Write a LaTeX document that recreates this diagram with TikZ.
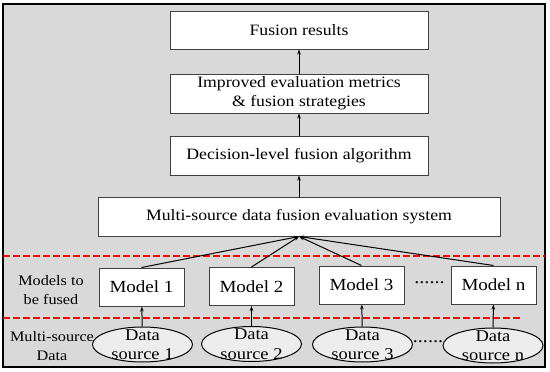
\documentclass[tikz,border=0pt]{standalone}
\usepackage{fontspec}
\setmainfont{Liberation Serif}[FakeStretch=1.12]
\usepackage{tikz}
\definecolor{panelgray}{RGB}{217, 217, 217}
\definecolor{srcgray}{RGB}{237, 237, 237}
\definecolor{boxline}{RGB}{64, 64, 64}
\definecolor{splitred}{RGB}{255, 0, 0}
\usetikzlibrary{shapes.geometric, arrows.meta, positioning}

\begin{document}
\begin{tikzpicture}[
    x=1pt, y=-1pt,
    font=\fontsize{15.8}{19}\selectfont,
    stagebox/.style={draw=boxline, line width=1pt, fill=white,
                     minimum width=#1, minimum height=38pt, inner sep=0pt, align=center},
    modelbox/.style={draw=boxline, line width=1pt, fill=white, font=\fontsize{17}{20}\selectfont,
                     minimum width=85pt, minimum height=38pt, inner sep=0pt},
    srcnode/.style={ellipse, draw=black, line width=1pt, fill=srcgray,
                    minimum width=100pt, minimum height=35pt, inner sep=0pt,
                    label={[align=center, inner sep=0pt, font=\fontsize{16.5}{19.5}\selectfont]center:#1}},
    rowlabel/.style={align=center, inner sep=0pt, font=\fontsize{14.5}{19}\selectfont},
    flow/.style={-{Stealth[length=5pt, width=3.5pt]}, line width=1pt},
    divider/.style={splitred, line width=1.5pt, dash pattern=on 7pt off 3pt}
]
    \useasboundingbox (0,0) rectangle (550,372);

    % Panel
    \draw[line width=1.2pt, fill=panelgray] (3,4) rectangle (545,367);

    % Stages
    \node[stagebox=258pt] (results) at (299,30) {Fusion results};
    \node[stagebox=258pt, minimum height=39pt] (metrics) at (299,93.5) {Improved evaluation metrics\\\& fusion strategies};
    \node[stagebox=258pt, minimum height=39pt] (decision) at (299,155.5) {Decision-level fusion algorithm};
    \node[stagebox=402pt, minimum height=39pt] (system) at (299,216.5) {Multi-source data fusion evaluation system};

    % Dividers
    \coordinate (divA) at (3,256);
    \coordinate (divB) at (545,256);
    \coordinate (divC) at (3,318);
    \coordinate (divD) at (520,318);
    \draw[divider] (divA) -- (divB);
    \draw[divider] (divC) -- (divD);

    % Row labels
    \node[rowlabel] (lblmodels) at (51,290) {Models to\\be fused};
    \node[rowlabel] (lbldata) at (52,346) {Multi-source\\Data};

    % Models
    \node[modelbox] (m1) at (141.5,287) {Model 1};
    \node[modelbox] (m2) at (251.5,286.5) {Model 2};
    \node[modelbox] (m3) at (361.5,285) {Model 3};
    \node[modelbox] (mn) at (493.5,285) {Model n};
    \node[font=\fontsize{18}{20}\selectfont] (mdots) at (429.5,283) {......};

    % Data sources
    \node[srcnode={Data\\source 1}] (s1) at (142.5,344.5) {};
    \node[srcnode={Data\\source 2}] (s2) at (251.5,344) {};
    \node[srcnode={Data\\source 3}] (s3) at (362.5,344.5) {};
    \node[srcnode={Data\\source n}] (sn) at (493,345.5) {};
    \node[font=\fontsize{18}{20}\selectfont] (sdots) at (428,342) {......};

    % Arrows
    \draw[flow] (s1) -- (m1);
    \draw[flow] (s2) -- (m2);
    \draw[flow] (s3) -- (m3);
    \draw[flow] (sn) -- (mn);
    \draw[flow] (m1.north) -- (system.south);
    \draw[flow] (m2.north) -- (system.south);
    \draw[flow] (m3.north) -- (system.south);
    \draw[flow] (mn.north) -- (system.south);
    \draw[flow] (system) -- (decision);
    \draw[flow] (decision) -- (metrics);
    \draw[flow] (metrics) -- (results);
\end{tikzpicture}
\end{document}
